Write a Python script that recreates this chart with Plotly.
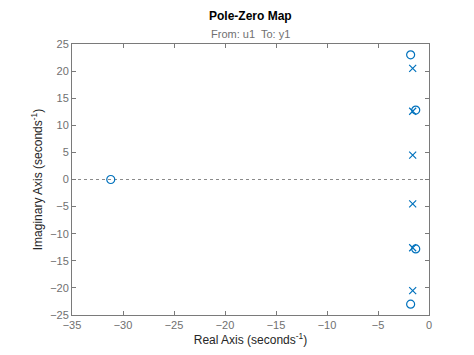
import plotly.graph_objects as go

pole_re = [-1.6, -1.6, -1.6, -1.6, -1.6, -1.6]
pole_im = [20.5, 12.6, 4.5, -4.5, -12.6, -20.5]
zero_re = [-31.2, -1.8, -1.8, -1.3, -1.3]
zero_im = [0.0, 23.0, -23.0, 12.8, -12.8]

blue = "#0072BD"
axc = "#7a7a7a"
fnt = "Liberation Sans, Arial, sans-serif"

fig = go.Figure()
fig.add_trace(go.Scatter(x=[-35, 0], y=[0, 0], mode="lines",
                         line=dict(color="#8a8a8a", width=1, dash="dot"),
                         hoverinfo="skip", showlegend=False))
fig.add_trace(go.Scatter(x=pole_re, y=pole_im, mode="markers",
                         marker=dict(symbol="x-thin", size=7, line=dict(color=blue, width=1.2)),
                         showlegend=False))
fig.add_trace(go.Scatter(x=zero_re, y=zero_im, mode="markers",
                         marker=dict(symbol="circle-open", size=8, color=blue, line=dict(width=1.2)),
                         showlegend=False))

axis_common = dict(showgrid=False, zeroline=False, ticks="inside", ticklen=4,
                   tickcolor=axc, showline=True, linecolor=axc, linewidth=1,
                   mirror="ticks", tickfont=dict(family=fnt, size=11, color="#707070"))
fig.update_xaxes(range=[-35, 0], dtick=5, tick0=-35,
                 title=dict(text="Real Axis (seconds<sup>-1</sup>)", standoff=4,
                            font=dict(family=fnt, size=12, color="#262626")),
                 **axis_common)
fig.update_yaxes(range=[-25, 25], dtick=5, tick0=-25,
                 title=dict(text="Imaginary Axis (seconds<sup>-1</sup>)", standoff=4,
                            font=dict(family=fnt, size=12, color="#262626")),
                 **axis_common)

fig.add_annotation(text="<b>Pole-Zero Map</b>", x=0.5, y=1, xref="paper", yref="paper",
                   yanchor="bottom", yshift=19, showarrow=False,
                   font=dict(family=fnt, size=12, color="#000000"))
fig.add_annotation(text="From: u1  To: y1", x=0.5, y=1, xref="paper", yref="paper",
                   yanchor="bottom", yshift=2, showarrow=False,
                   font=dict(family=fnt, size=11, color="#707070"))

fig.update_layout(width=474, height=355, margin=dict(l=72, r=45, t=44, b=40),
                  paper_bgcolor="white", plot_bgcolor="white")
fig.write_html("out.html")
